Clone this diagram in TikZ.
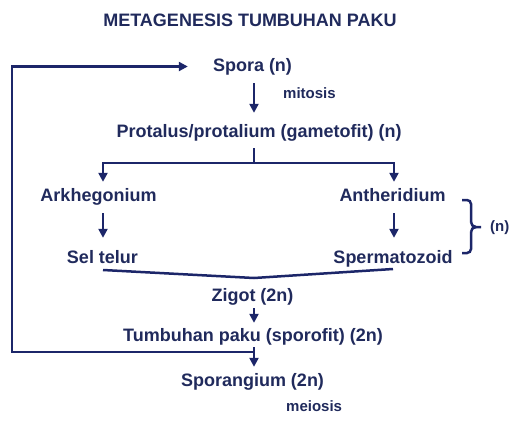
\documentclass[tikz,border=0pt]{standalone}
\usepackage{fontspec}
\setmainfont{Liberation Sans}
\usetikzlibrary{arrows.meta}
\definecolor{navy}{RGB}{28,38,105}
\definecolor{navytext}{RGB}{32,42,92}
\tikzset{
  big/.style={font=\bfseries\fontsize{18}{20}\selectfont, text=navytext, inner sep=0pt, anchor=base, text height=13pt, text depth=4pt},
  small/.style={font=\bfseries\fontsize{15}{17}\selectfont, text=navytext, inner sep=0pt, anchor=base west},
  line/.style={draw=navy, line width=2.5pt},
  tip/.style={-{Triangle[length=9pt,width=9pt]}},
  arr/.style={line, tip}
}
\begin{document}
\begin{tikzpicture}[x=1pt,y=-1pt]
\useasboundingbox (0,0) rectangle (515,421);
% nodes
\node[big] (title) at (250,26) {METAGENESIS TUMBUHAN PAKU};
\node[big] (spora) at (252.5,71) {Spora (n)};
\node[small] (mitosis) at (283,98) {mitosis};
\node[big] (protalus) at (259,137) {Protalus/protalium (gametofit) (n)};
\node[big] (arkh) at (98.5,201.5) {Arkhegonium};
\node[big] (anth) at (392.5,201.5) {Antheridium};
\node[big] (sel) at (102.5,263) {Sel telur};
\node[big] (sperm) at (393,263) {Spermatozoid};
\node[small] (nlab) at (490,231) {(n)};
\node[big] (zigot) at (252.5,301) {Zigot (2n)};
\node[big] (tumb) at (253,341.5) {Tumbuhan paku (sporofit) (2n)};
\node[big] (spor) at (252.5,386.5) {Sporangium (2n)};
\node[small] (meiosis) at (286,411.5) {meiosis};
% helper coordinates
\coordinate (ax) at (254,0);
\coordinate (fork) at (254,163);
\coordinate (forkL) at (103,163);
\coordinate (forkR) at (394,163);
\coordinate (vL) at (103,270);
\coordinate (merge) at (254,278);
\coordinate (vR) at (393,269);
\coordinate (junc) at (254,352);
\coordinate (loopB) at (12,352);
\coordinate (brT) at (462,200);
\coordinate (brB) at (462,253);
\coordinate (brM) at (481,227);
% connectors
\draw[arr, shorten <=8pt, shorten >=11pt] (ax |- spora.south) -- (ax |- protalus.north);
\draw[line, shorten <=7pt] (fork |- protalus.south) -- (fork);
\draw[line, {Triangle[length=9pt,width=9pt]}-{Triangle[length=9pt,width=9pt]}, shorten <=6.5pt, shorten >=6.5pt]
  (forkL |- arkh.north) -- (forkL) -- (forkR) -- (forkR |- anth.north);
\draw[arr, shorten <=7.5pt, shorten >=12pt] (forkL |- arkh.south) -- (forkL |- sel.north);
\draw[arr, shorten <=7.5pt, shorten >=12pt] (forkR |- anth.south) -- (forkR |- sperm.north);
\draw[line] (vL) -- (merge) -- (vR);
\draw[arr, shorten <=3pt, shorten >=5.5pt] (ax |- zigot.south) -- (ax |- tumb.north);
\draw[arr, shorten <=1.5pt, shorten >=6.5pt] (ax |- tumb.south) -- (ax |- spor.north);
\draw[arr, shorten >=25pt] (junc) -- (loopB) -- (loopB |- spora.west) -- (spora.west);
% brace
\draw[line, rounded corners=4pt] (brT) -- (471,200) -- (471,222);
\draw[line, rounded corners=4pt] (brB) -- (471,253) -- (471,232);
\draw[line] (471,222) to[out=-90,in=180] (476,227) -- (brM);
\draw[line] (471,232) to[out=90,in=180] (476,227);
\end{tikzpicture}
\end{document}
